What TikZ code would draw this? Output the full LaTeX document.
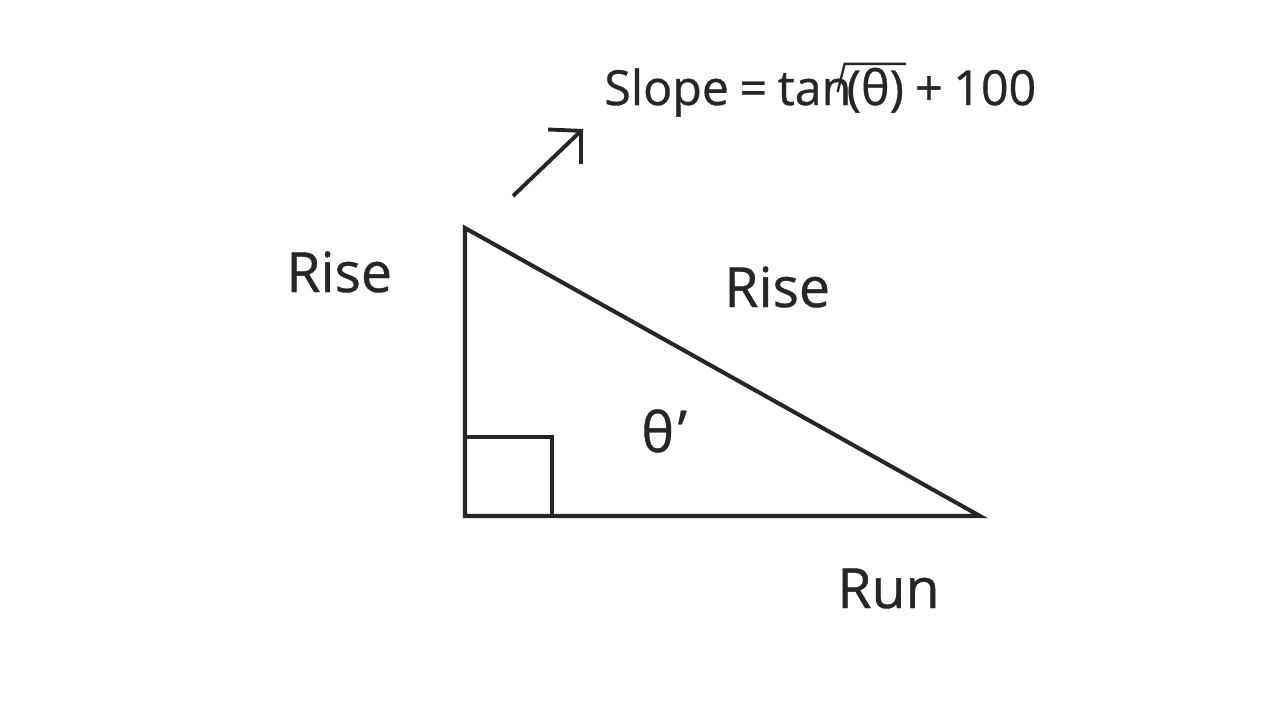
\documentclass[tikz,border=0pt]{standalone}
\usepackage{fontspec}
\setmainfont{Open Sans}
\newfontfamily\labelfont{Open Sans}[FakeBold=0.7]
\usetikzlibrary{arrows.meta}

\tikzset{
  label text/.style={inner sep=0pt, anchor=base west, font=\fontsize{31.5}{36}\labelfont, text=black!85},
  formula text/.style={inner sep=0pt, anchor=base west, font=\fontsize{27.5}{32}\labelfont, text=black!85},
  side line/.style={line width=2.3pt, draw=black!85, line join=miter},
}

\begin{document}
\begin{tikzpicture}[x=0.02cm, y=-0.02cm]
\useasboundingbox[fill=white] (0,0) rectangle (1280,720);

% triangle corners
\coordinate (top) at (465,228);
\coordinate (corner) at (465,516);
\coordinate (tip) at (980,516);
\draw[side line] (top) -- (corner) -- (tip) -- cycle;

% right angle mark
\coordinate (sqa) at (465,437);
\coordinate (sqb) at (552,516);
\draw[side line] (sqa) -| (sqb);

% labels
\node[label text] (riseleft) at (286,292) {Rise};
\node[label text] (riseright) at (724,307) {Rise};
\node[label text] (angle) at (641,452) {θ\kern2pt\raisebox{1pt}{’}};
\node[label text] (run) at (837,608) {Run};

% formula
\node[formula text] (slope) at (604,105) {Slope\hspace{6pt}=\hspace{6pt}tan};
\node[formula text] (arg) at ([xshift=-3pt]slope.base east) {(θ)};
\node[formula text] (plus) at (arg.base east) {\hspace{6pt}+\hspace{6pt}100};
\coordinate (radtop) at ([xshift=-1pt,yshift=2pt]arg.north west);
\draw[line width=1.3pt, black!85] ([xshift=-4pt,yshift=-16pt]radtop) -- (radtop) -- ([xshift=1pt]radtop -| arg.north east);

% arrow
\coordinate (arrowstart) at (513,196);
\coordinate (arrowend) at (583,129);
\draw[line width=2.2pt, black!85, -{Straight Barb[length=13pt,width=27pt]}] (arrowstart) -- (arrowend);
\end{tikzpicture}
\end{document}
